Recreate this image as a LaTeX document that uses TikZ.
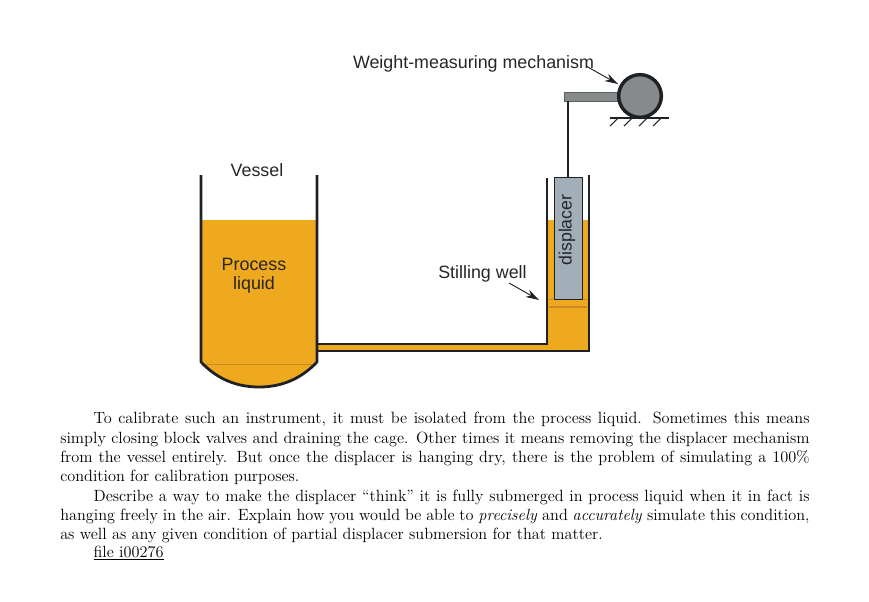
\documentclass[tikz,border=0pt]{standalone}
\usepackage{fontspec}
\setmainfont{Latin Modern Roman}
\newfontfamily\labelfont{Liberation Sans}
\usetikzlibrary{arrows.meta}
\definecolor{liquid}{HTML}{EFA91F}
\definecolor{wallc}{HTML}{1E2226}
\definecolor{mech}{HTML}{878A8A}
\definecolor{disp}{HTML}{A2AEB8}
\definecolor{seam}{HTML}{C98A2E}
\tikzset{
  wall/.style={draw=wallc,line width=2.1pt},
  thinwall/.style={draw=wallc,line width=1.1pt},
  seamline/.style={draw=seam,line width=0.6pt},
  lab/.style={font=\labelfont\fontsize{13.4pt}{14.4pt}\selectfont,text=black!85,inner sep=0pt,align=center},
  callout/.style={draw=wallc,line width=0.7pt,-{Stealth[length=10pt,width=6pt]}},
  hatchline/.style={draw=wallc,line width=0.8pt},
}
\begin{document}
\begin{tikzpicture}[x=0.75pt,y=-0.75pt]
\useasboundingbox (0,0) rectangle (869,601);
% liquid
\fill[liquid] (201,220) -- (317,220) -- (317,344) -- (547,344) -- (547,220) -- (589,220) -- (589,351) -- (317,351) -- (317,362)
  .. controls (300,380) and (280,387) .. (259,387) .. controls (238,387) and (218,380) .. (201,362) -- cycle;
% seams
\draw[seamline] (203,364) -- (315,364);
\draw[seamline] (549,299) -- (587,299);
\draw[seamline,line width=1.1pt] (549,307) -- (587,307);
% vessel and well walls
\coordinate (vl) at (201,175);
\coordinate (vb1) at (201,362);
\coordinate (vb2) at (317,362);
\coordinate (vr) at (317,175);
\coordinate (pt) at (317,344);
\coordinate (wl) at (547,344);
\coordinate (wlt) at (547,178);
\coordinate (pb) at (317,351);
\coordinate (wr) at (589,351);
\coordinate (wrt) at (589,175);
\draw[wall,line join=round] (vl) -- (vb1) .. controls (218,380) and (238,387) .. (259,387) .. controls (280,387) and (300,380) .. (vb2) -- (vr);
\draw[wall,line join=miter] (pt) -- (wl) -- (wlt);
\draw[wall,line join=miter] (pb) -- (wr) -- (wrt);
% mechanism
\node[draw=mech!60!wallc,line width=0.8pt,fill=mech,inner sep=0pt,minimum width=41pt,minimum height=6.2pt,anchor=west] (bar) at (564,97) {};
\node[circle,draw=wallc,line width=2.6pt,fill=mech,minimum size=32pt,inner sep=0pt] (wheel) at (640,96) {};
\node[rectangle,draw=wallc,line width=1.4pt,fill=disp,minimum width=21pt,minimum height=91.5pt,inner sep=0pt] (displacer) at (568.5,238.5) {};
\node[rotate=90,font=\labelfont\fontsize{13.3pt}{14pt}\selectfont,text=black!85,inner sep=0pt] (displacertext) at (567,230) {displacer};
\coordinate (wiretop) at (568,101);
\draw[thinwall] (wiretop) -- (wiretop |- displacer.north);
% ground
\coordinate (g1) at (610,118);
\coordinate (g2) at (669,118);
\draw[hatchline] (g1) -- (g2);
\foreach \i/\hx in {1/610,2/624,3/639,4/653}{
  \coordinate (h\i a) at (\hx,126);
  \coordinate (h\i b) at (\hx+8,118);
  \draw[hatchline] (h\i a) -- (h\i b);
}
% labels
\node[lab] (lweight) at (473.5,63.5) {Weight-measuring mechanism};
\node[lab] (lvessel) at (257,170.5) {Vessel};
\node[lab] (lprocess) at (254,276) {Process\\liquid};
\node[lab] (lstill) at (482.5,273.5) {Stilling well};
\coordinate (a1s) at (586,66);
\coordinate (a1e) at (618,84);
\coordinate (a2s) at (509,283);
\coordinate (a2e) at (539,300);
\draw[callout] (a1s) -- (a1e);
\draw[callout] (a2s) -- (a2e);
% body text
\node[anchor=north west,inner sep=0pt,text width=562pt,align=justify] (body) at (60,412) {%
\fontsize{12.2pt}{14.5pt}\selectfont
\hspace*{25pt}To calibrate such an instrument, it must be isolated from the process liquid. Sometimes this means\linebreak
simply closing block valves and draining the cage. Other times it means removing the displacer mechanism\linebreak
from the vessel entirely. But once the displacer is hanging dry, there is the problem of simulating a 100\%\linebreak
condition for calibration purposes.\par
\hspace*{25pt}Describe a way to make the displacer ``think'' it is fully submerged in process liquid when it in fact is\linebreak
hanging freely in the air. Explain how you would be able to \textit{precisely} and \textit{accurately} simulate this condition,\linebreak
as well as any given condition of partial displacer submersion for that matter.\par\vspace{1pt}
\hspace*{25pt}\underline{file i00276}};
\end{tikzpicture}
\end{document}
